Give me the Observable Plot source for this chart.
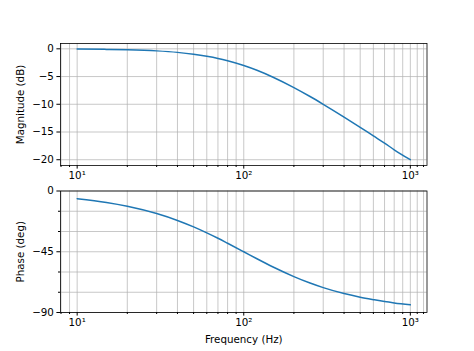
<!DOCTYPE html>
<html>
<head>
<meta charset="utf-8">
<script src="https://cdn.jsdelivr.net/npm/d3@7"></script>
<script src="https://cdn.jsdelivr.net/npm/@observablehq/plot@0.6"></script>
<style>
  html, body { margin: 0; padding: 0; background: #fff; }
  #chart { width: 474px; height: 351px; position: relative; overflow: hidden; }
  #chart svg { display: block; }
</style>
</head>
<body>
<div id="chart"></div>
<script>
// Frequencies (Hz)
const freq = [10, 15, 20, 30, 40, 50, 60, 70, 80, 100, 120, 150, 200, 250, 300, 400, 500, 600, 700, 800, 1000];
// Magnitude (dB)
const magnitude = [-0.04, -0.10, -0.17, -0.37, -0.64, -0.97, -1.34, -1.73, -2.15, -3.01, -3.87, -5.12, -6.99, -8.60, -10.0, -12.3, -14.15, -15.7, -17.0, -18.2, -20.0];
// Phase (deg)
const phase = [-5.7, -8.5, -11.3, -16.7, -21.8, -26.6, -31.0, -35.0, -38.7, -45.0, -50.2, -56.3, -63.4, -68.2, -71.6, -76.0, -78.7, -80.5, -81.9, -82.9, -84.3];

const xMajor = [10, 100, 1000];
const xMinor = [8, 9, 20, 30, 40, 50, 60, 70, 80, 90, 200, 300, 400, 500, 600, 700, 800, 900, 1100, 1200];
const xTickLabels = ["10¹", "10²", "10³"];
const magTicks = [0, -5, -10, -15, -20];
const phaseMajor = [0, -45, -90];
const phaseMinor = [-15, -30, -60, -75];

const W = 474;
const FS = 10.3;
const FONT = "'DejaVu Sans', sans-serif";
const minus = d => (d < 0 ? "\u2212" + (-d) : String(d));
const xFmt = d => xTickLabels[xMajor.indexOf(d)];
const xDomain = [Math.pow(10, 0.9), Math.pow(10, 3.1)];

function panel({values, height, marginTop, marginBottom, yDomain, yMajor, yMinor, yLabel, xLabel}) {
  const data = freq.map((f, i) => ({f, v: values[i]}));
  const minorX = xMinor.filter(d => d >= xDomain[0] && d <= xDomain[1]);
  const marks = [
    Plot.ruleX([...xMajor, ...minorX], {stroke: "#b0b0b0", strokeWidth: 0.7}),
    Plot.ruleY([...yMajor, ...yMinor], {stroke: "#b0b0b0", strokeWidth: 0.7}),
    Plot.line(data, {x: "f", y: "v", stroke: "#1f77b4", strokeWidth: 1.5, curve: "monotone-x"}),
    Plot.frame({stroke: "#000", strokeWidth: 0.8}),
    Plot.axisX(xMajor, {tickSize: 3.6, tickPadding: 3, tickFormat: xFmt, fontSize: FS, label: null}),
    Plot.axisX(minorX, {tickSize: 2, tickFormat: () => "", label: null}),
    Plot.axisY(yMajor, {tickSize: 3.6, tickPadding: 3, tickFormat: minus, fontSize: FS, label: null}),
  ];
  if (yMinor.length) marks.push(Plot.axisY(yMinor, {tickSize: 2, tickFormat: () => "", label: null}));
  marks.push(Plot.text([yLabel], {frameAnchor: "left", textAnchor: "middle", dx: -40, rotate: -90, fontSize: FS, fill: "#000", text: d => d}));
  if (xLabel) marks.push(Plot.text([xLabel], {frameAnchor: "bottom", dy: 30, fontSize: FS, fill: "#000", text: d => d}));
  return Plot.plot({
    width: W, height,
    marginLeft: 60, marginRight: 47.5, marginTop, marginBottom,
    style: {fontFamily: FONT, fontSize: FS + "px", color: "#000", background: "#fff", overflow: "visible"},
    x: {type: "log", domain: xDomain},
    y: {domain: yDomain},
    marks
  });
}

const topPanel = panel({
  values: magnitude, height: 186, marginTop: 43, marginBottom: 21,
  yDomain: [-21.04, 0.96], yMajor: magTicks, yMinor: [], yLabel: "Magnitude (dB)"
});
const bottomPanel = panel({
  values: phase, height: 165, marginTop: 4.5, marginBottom: 39,
  yDomain: [-90, 0], yMajor: phaseMajor, yMinor: phaseMinor, yLabel: "Phase (deg)", xLabel: "Frequency (Hz)"
});
const el = document.getElementById("chart");
el.appendChild(topPanel);
el.appendChild(bottomPanel);
</script>
</body>
</html>
